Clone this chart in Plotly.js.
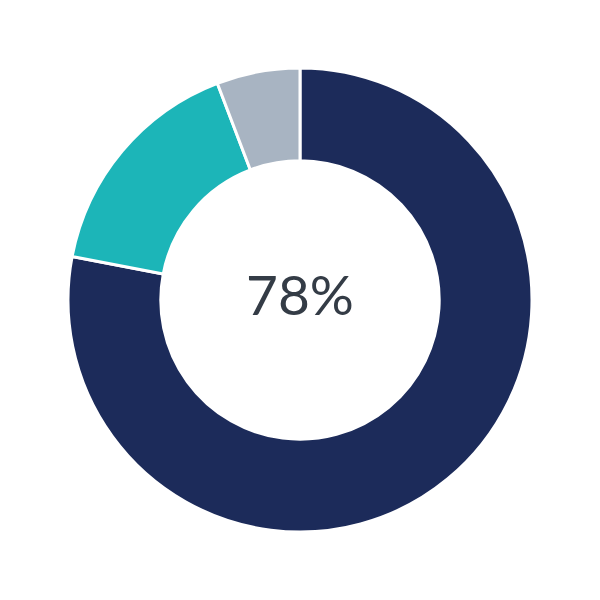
<!DOCTYPE html>
<html>
<head>
<meta charset="utf-8">
<script src="https://cdn.plot.ly/plotly-3.0.1.min.js"></script>
<style>html,body{margin:0;padding:0;background:#fff;}#chart{width:600px;height:600px;}</style>
</head>
<body>
<div id="chart"></div>
<script>
const labels = ["A", "B", "C"];
const values = [78, 16.2, 5.8];
const colors = ["#1c2b5a", "#1cb5b8", "#a8b4c2"];
const centerLabel = "78%";

Plotly.newPlot("chart", [{
  type: "pie",
  labels: labels,
  values: values,
  hole: 0.6,
  sort: false,
  direction: "clockwise",
  rotation: 0,
  textinfo: "none",
  hoverinfo: "none",
  marker: {colors: colors, line: {color: "#ffffff", width: 3}}
}], {
  width: 600, height: 600,
  margin: {l: 68, r: 68, t: 68, b: 68},
  showlegend: false,
  paper_bgcolor: "#ffffff",
  annotations: [{
    text: centerLabel, x: 0.5, y: 0.5, xref: "paper", yref: "paper",
    yshift: 6,
    showarrow: false,
    font: {family: "Lato, sans-serif", size: 55, color: "#343c46"}
  }]
}, {staticPlot: true});
</script>
</body>
</html>
